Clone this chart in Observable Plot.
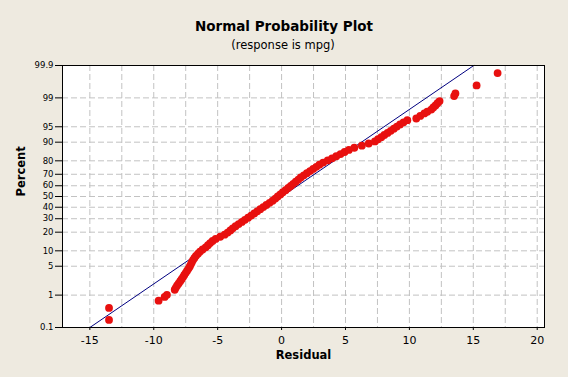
<!DOCTYPE html>
<html>
<head>
<meta charset="utf-8">
<script src="https://cdn.jsdelivr.net/npm/d3@7"></script>
<script src="https://cdn.jsdelivr.net/npm/@observablehq/plot@0.6"></script>
<style>
  html, body { margin: 0; padding: 0; background: #eeeae0; overflow: hidden; }
  #chart { width: 568px; height: 377px; }
</style>
</head>
<body>
<div id="chart"></div>
<script>
// ---- Data ----
const residual = [
  -13.5, -13.5, -9.62, -9.15, -8.97,
  -8.36, -8.27, -8.17, -8.05, -7.93, -7.82, -7.71, -7.61, -7.50, -7.39,
  -7.28, -7.18, -7.10, -7.02, -6.93, -6.82, -6.70, -6.54, -6.38, -6.18,
  -5.94, -5.76, -5.59, -5.40, -5.16, -4.80, -4.46, -4.22, -4.01, -3.82,
  -3.60, -3.36, -3.11, -2.87, -2.62, -2.38, -2.14, -1.90, -1.67, -1.43,
  -1.19, -0.94, -0.70, -0.49, -0.30, -0.10, 0.10, 0.31, 0.52, 0.72,
  0.91, 1.11, 1.31, 1.50, 1.74, 1.98, 2.23, 2.47, 2.72, 2.96,
  3.25, 3.61, 3.95, 4.28, 4.61, 4.93, 5.26, 5.69, 6.28, 6.82,
  7.30, 7.55, 7.80, 8.04, 8.29, 8.54, 8.78, 9.02, 9.27, 9.54, 9.84,
  10.54, 10.85, 11.17, 11.40, 11.71, 11.87, 12.04, 12.20, 12.36,
  13.50, 13.60, 15.26, 16.90
];
const percent = [
  0.18, 0.43, 0.70, 0.89, 1.02,
  1.39, 1.58, 1.79, 2.02, 2.28, 2.56, 2.87, 3.22, 3.59, 4.01,
  4.46, 4.95, 5.48, 6.06, 6.68, 7.35, 8.08, 8.85, 9.68, 10.57,
  11.51, 12.51, 13.57, 14.69, 15.87, 17.11, 18.41, 19.77, 21.19, 22.66,
  24.20, 25.79, 27.43, 29.12, 30.85, 32.64, 34.46, 36.32, 38.21, 40.13,
  42.07, 44.04, 46.02, 48.01, 50.00, 51.99, 53.98, 55.96, 57.93, 59.87,
  61.79, 63.68, 65.54, 67.36, 69.15, 70.88, 72.57, 74.22, 75.80, 77.34,
  78.81, 80.23, 81.59, 82.89, 84.13, 85.31, 86.43, 87.49, 88.49, 89.44,
  90.32, 91.15, 91.92, 92.65, 93.32, 93.94, 94.52, 95.05, 95.54, 95.99, 96.41,
  96.71, 97.13, 97.50, 97.72, 97.98, 98.21, 98.42, 98.61, 98.78,
  99.11, 99.25, 99.56, 99.82
];
// fitted normal line (mean, standard deviation) and its percent span
const fitMean = 0.02;
const fitSigma = 4.86;
const fitPercent = [0.1, 99.9];

const xTicks = [-15, -10, -5, 0, 5, 10, 15, 20];
const xGrid = [-15, -12.5, -10, -7.5, -5, -2.5, 0, 2.5, 5, 7.5, 10, 12.5, 15, 17.5, 20];
const yTickPercent = [0.1, 1, 5, 10, 20, 30, 40, 50, 60, 70, 80, 90, 95, 99, 99.9];
const yTickLabels = ["0.1", "1", "5", "10", "20", "30", "40", "50", "60", "70", "80", "90", "95", "99", "99.9"];

const titleText = "Normal Probability Plot";
const subtitleText = "(response is mpg)";
const xLabel = "Residual";
const yLabel = "Percent";

// ---- inverse normal CDF (Acklam) ----
function probit(p) {
  const a = [-3.969683028665376e+01, 2.209460984245205e+02, -2.759285104469687e+02, 1.383577518672690e+02, -3.066479806614716e+01, 2.506628277459239e+00];
  const b = [-5.447609879822406e+01, 1.615858368580409e+02, -1.556989798598866e+02, 6.680131188771972e+01, -1.328068155288572e+01];
  const c = [-7.784894002430293e-03, -3.223964580411365e-01, -2.400758276141423e+00, -2.549732539343734e+00, 4.374664141464968e+00, 2.938163982698783e+00];
  const d = [7.784695709041462e-03, 3.224671290700398e-01, 2.445134137142996e+00, 3.754408661907416e+00];
  const pl = 0.02425, ph = 1 - pl;
  if (p < pl) {
    const q = Math.sqrt(-2 * Math.log(p));
    return (((((c[0]*q+c[1])*q+c[2])*q+c[3])*q+c[4])*q+c[5]) / ((((d[0]*q+d[1])*q+d[2])*q+d[3])*q+1);
  }
  if (p <= ph) {
    const q = p - 0.5, r = q * q;
    return (((((a[0]*r+a[1])*r+a[2])*r+a[3])*r+a[4])*r+a[5])*q / (((((b[0]*r+b[1])*r+b[2])*r+b[3])*r+b[4])*r+1);
  }
  const q = Math.sqrt(-2 * Math.log(1 - p));
  return -(((((c[0]*q+c[1])*q+c[2])*q+c[3])*q+c[4])*q+c[5]) / ((((d[0]*q+d[1])*q+d[2])*q+d[3])*q+1);
}
const pz = (pct) => probit(pct / 100);

const points = residual.map((r, i) => ({residual: r, z: pz(percent[i])}));
const fitLine = fitPercent.map(p => ({residual: fitMean + fitSigma * pz(p), z: pz(p)}));
const yTickZ = yTickPercent.map(pz);
const yGridZ = yTickZ.slice(1, -1);

const chart = Plot.plot({
  width: 568,
  height: 377,
  marginTop: 65,
  marginRight: 24,
  marginBottom: 50,
  marginLeft: 62,
  style: {background: "transparent", fontFamily: "'DejaVu Sans', sans-serif", color: "black"},
  x: {domain: [-17.14, 20.57]},
  y: {domain: [pz(0.1), pz(99.9)]},
  marks: [
    Plot.frame({fill: "white", stroke: null}),
    Plot.ruleX(xGrid, {stroke: "#c2c2c2", strokeDasharray: "6,3"}),
    Plot.ruleY(yGridZ, {stroke: "#c2c2c2", strokeDasharray: "6,3"}),
    Plot.line(fitLine, {x: "residual", y: "z", stroke: "#000080", strokeWidth: 1}),
    Plot.dot(points, {x: "residual", y: "z", r: 3.9, fill: "#e8100f"}),
    Plot.frame({stroke: "black"}),
    Plot.axisX({ticks: xTicks, tickSize: 3, tickPadding: 6, tickFormat: d => String(d), fontSize: 11, label: null}),
    Plot.axisY({ticks: yTickZ, tickSize: 7, tickPadding: 2, tickFormat: z => yTickLabels[yTickZ.indexOf(z)], fontSize: 8.5, label: null}),
    Plot.text([titleText], {text: d => d, frameAnchor: "top", dx: -19.5, dy: -44.5, fontWeight: "bold", fontSize: 13.5}),
    Plot.text([subtitleText], {text: d => d, frameAnchor: "top", dx: -20.5, dy: -25, fontSize: 11.5}),
    Plot.text([xLabel], {text: d => d, frameAnchor: "bottom", dy: 31, fontWeight: "bold", fontSize: 11.5}),
    Plot.text([yLabel], {text: d => d, frameAnchor: "left", dx: -40.7, rotate: -90, fontWeight: "bold", fontSize: 11.5})
  ]
});
document.getElementById("chart").appendChild(chart);
</script>
</body>
</html>
